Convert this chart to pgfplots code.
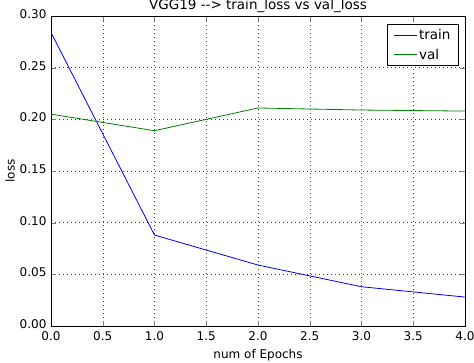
\documentclass[border=0pt]{standalone}
\usepackage{pgfplots}
\pgfplotsset{compat=1.18}
\usepackage{fontspec}
\setmainfont{DejaVu Sans}
\definecolor{mblue}{rgb}{0,0,1}
\definecolor{mgreen}{rgb}{0,0.5,0}
\begin{document}
\begin{tikzpicture}
\begin{axis}[
  scale only axis,
  width=414pt, height=310pt,
  xmin=0, xmax=4, ymin=0, ymax=0.30,
  xtick={0,0.5,...,4},
  ytick={0,0.05,...,0.30},
  /pgf/number format/assume math mode=true,
  tick label style={font=\fontsize{12}{14}\selectfont},
  xticklabel style={yshift=-2pt, /pgf/number format/.cd, fixed, fixed zerofill, precision=1},
  yticklabel style={xshift=-1pt, yshift=2pt, /pgf/number format/.cd, fixed, fixed zerofill, precision=2},
  label style={font=\fontsize{12}{14}\selectfont},
  title style={font=\fontsize{13.5}{15}\selectfont, at={(0.5,1)}, anchor=base, yshift=1pt},
  title={VGG19 -{}-> train\_loss vs val\_loss},
  xlabel={num of Epochs},
  ylabel={loss},
  xlabel style={yshift=-2pt},
  ylabel style={yshift=-2pt},
  tick align=inside,
  xtick pos=both, ytick pos=both,
  major tick length=5pt,
  grid=major,
  major grid style={black!75, line width=0.5pt, dash pattern=on 1pt off 3pt},
  axis line style={black, line width=0.9pt},
  legend style={at={(0.985,0.975)}, anchor=north east, line width=0.7pt,
    font=\fontsize{13.5}{16}\selectfont, inner xsep=6pt, inner ysep=3pt, row sep=4pt},
  legend cell align=left,
  legend image code/.code={\draw[#1] (0cm,0cm) -- (0.8cm,0cm);},
]
\addlegendimage{draw=mblue, line width=0.8pt}
\addlegendentry{train}
\addlegendimage{draw=mgreen, line width=0.8pt}
\addlegendentry{val}
\addplot[draw=mblue, line width=0.8pt, forget plot] coordinates {(0,0.284) (1,0.088) (2,0.059) (3,0.038) (4,0.028)};
\addplot[draw=mgreen, line width=0.8pt, forget plot] coordinates {(0,0.205) (1,0.189) (2,0.211) (3,0.209) (4,0.208)};
\end{axis}
\pgfresetboundingbox
\path[use as bounding box] ([xshift=-51pt,yshift=-36pt]current axis.south west) rectangle ([xshift=9pt,yshift=16pt]current axis.north east);
\end{tikzpicture}
\end{document}
